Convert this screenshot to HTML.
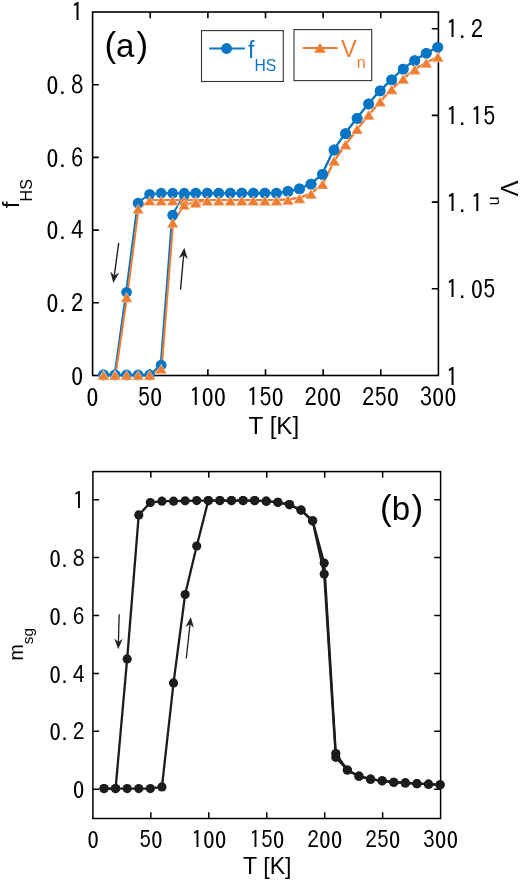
<!DOCTYPE html><html><head><meta charset="utf-8"><title>fHS Vn msg vs T</title>
<style>html,body{margin:0;padding:0;background:#fff;overflow:hidden;}svg{display:block;}</style></head><body>
<svg width="520" height="881" viewBox="0 0 520 881">
<rect width="520" height="881" fill="#fff"/>
<g stroke="#000" stroke-width="1.60" fill="none">
<rect x="92.60" y="12.00" width="345.80" height="363.50" stroke-linejoin="miter"/>
<path d="M150.23 375.50v-6.2M150.23 12.00v6.2M207.87 375.50v-6.2M207.87 12.00v6.2M265.50 375.50v-6.2M265.50 12.00v6.2M323.13 375.50v-6.2M323.13 12.00v6.2M380.77 375.50v-6.2M380.77 12.00v6.2M92.60 302.80h6.2M92.60 230.10h6.2M92.60 157.40h6.2M92.60 84.70h6.2M438.40 288.80h-6.6M438.40 202.10h-6.6M438.40 115.40h-6.6M438.40 28.70h-6.6"/>
</g>
<polyline points="103.03,375.00 114.55,375.00 126.08,375.00 137.61,375.00 149.13,375.00 160.66,365.19 172.19,215.21 183.71,195.07 195.24,193.25 206.77,193.25 218.29,193.25 229.82,193.25 241.35,193.25 252.87,193.25 264.40,193.25 275.93,193.25 287.45,191.43 298.98,188.89 310.51,184.16 322.03,174.35 333.56,149.99 345.09,133.64 356.61,118.37 368.14,104.01 379.67,90.92 391.19,79.84 402.72,69.11 414.25,60.57 425.77,53.30 437.30,47.30" fill="none" stroke="#0876C4" stroke-width="2.00" stroke-linejoin="round" stroke-linecap="butt"/>
<polyline points="103.03,375.00 114.55,375.00 126.08,292.30 137.61,203.06 149.13,194.34 160.66,193.25 172.19,193.25 183.71,193.25 195.24,193.25 206.77,193.25 218.29,193.25 229.82,193.25 241.35,193.25 252.87,193.25 264.40,193.25 275.93,193.25 287.45,191.43 298.98,188.89 310.51,184.16 322.03,174.35 333.56,149.99 345.09,133.64 356.61,118.37 368.14,104.01 379.67,90.92 391.19,79.84 402.72,69.11 414.25,60.57 425.77,53.30 437.30,47.30" fill="none" stroke="#0876C4" stroke-width="2.00" stroke-linejoin="round" stroke-linecap="butt"/>
<polyline points="104.03,374.60 115.55,374.60 127.08,374.60 138.61,374.60 150.13,374.60 161.66,368.30 173.19,222.30 184.71,204.30 196.24,202.30 207.77,200.10 219.29,200.10 230.82,200.10 242.35,200.10 253.87,200.10 265.40,200.10 276.93,200.10 288.45,199.30 299.98,197.80 311.51,193.30 323.03,183.60 334.56,160.30 346.09,143.90 357.61,128.60 369.14,114.30 380.67,101.00 392.19,88.80 403.72,78.30 415.25,68.90 426.77,62.30 438.30,56.30" fill="none" stroke="#EE7D31" stroke-width="2.00" stroke-linejoin="round" stroke-linecap="butt"/>
<polyline points="104.03,374.60 115.55,374.60 127.08,296.70 138.61,208.30 150.13,200.10 161.66,200.10 173.19,200.10 184.71,200.10 196.24,200.10 207.77,200.10 219.29,200.10 230.82,200.10 242.35,200.10 253.87,200.10 265.40,200.10 276.93,200.10 288.45,199.30 299.98,197.80 311.51,193.30 323.03,183.60 334.56,160.30 346.09,143.90 357.61,128.60 369.14,114.30 380.67,101.00 392.19,88.80 403.72,78.30 415.25,68.90 426.77,62.30 438.30,56.30" fill="none" stroke="#EE7D31" stroke-width="2.00" stroke-linejoin="round" stroke-linecap="butt"/>
<polyline points="103.53,375.00 149.63,375.00" fill="none" stroke="#0876C4" stroke-width="2.00" stroke-linejoin="round" stroke-linecap="butt"/>
<g fill="#0876C4"><circle cx="103.53" cy="375.00" r="5.40"/><circle cx="115.05" cy="375.00" r="5.40"/><circle cx="126.58" cy="292.30" r="5.40"/><circle cx="138.11" cy="203.06" r="5.40"/><circle cx="149.63" cy="194.34" r="5.40"/><circle cx="161.16" cy="193.25" r="5.40"/><circle cx="172.69" cy="193.25" r="5.40"/><circle cx="184.21" cy="193.25" r="5.40"/><circle cx="195.74" cy="193.25" r="5.40"/><circle cx="207.27" cy="193.25" r="5.40"/><circle cx="218.79" cy="193.25" r="5.40"/><circle cx="230.32" cy="193.25" r="5.40"/><circle cx="241.85" cy="193.25" r="5.40"/><circle cx="253.37" cy="193.25" r="5.40"/><circle cx="264.90" cy="193.25" r="5.40"/><circle cx="276.43" cy="193.25" r="5.40"/><circle cx="287.95" cy="191.43" r="5.40"/><circle cx="299.48" cy="188.89" r="5.40"/><circle cx="311.01" cy="184.16" r="5.40"/><circle cx="322.53" cy="174.35" r="5.40"/><circle cx="334.06" cy="149.99" r="5.40"/><circle cx="345.59" cy="133.64" r="5.40"/><circle cx="357.11" cy="118.37" r="5.40"/><circle cx="368.64" cy="104.01" r="5.40"/><circle cx="380.17" cy="90.92" r="5.40"/><circle cx="391.69" cy="79.84" r="5.40"/><circle cx="403.22" cy="69.11" r="5.40"/><circle cx="414.75" cy="60.57" r="5.40"/><circle cx="426.27" cy="53.30" r="5.40"/><circle cx="437.80" cy="47.30" r="5.40"/><circle cx="103.53" cy="375.00" r="5.40"/><circle cx="115.05" cy="375.00" r="5.40"/><circle cx="126.58" cy="375.00" r="5.40"/><circle cx="138.11" cy="375.00" r="5.40"/><circle cx="149.63" cy="375.00" r="5.40"/><circle cx="161.16" cy="365.19" r="5.40"/><circle cx="172.69" cy="215.21" r="5.40"/><circle cx="184.21" cy="195.07" r="5.40"/><circle cx="195.74" cy="193.25" r="5.40"/><circle cx="207.27" cy="193.25" r="5.40"/><circle cx="218.79" cy="193.25" r="5.40"/><circle cx="230.32" cy="193.25" r="5.40"/><circle cx="241.85" cy="193.25" r="5.40"/><circle cx="253.37" cy="193.25" r="5.40"/><circle cx="264.90" cy="193.25" r="5.40"/><circle cx="276.43" cy="193.25" r="5.40"/><circle cx="287.95" cy="191.43" r="5.40"/><circle cx="299.48" cy="188.89" r="5.40"/><circle cx="311.01" cy="184.16" r="5.40"/><circle cx="322.53" cy="174.35" r="5.40"/><circle cx="334.06" cy="149.99" r="5.40"/><circle cx="345.59" cy="133.64" r="5.40"/><circle cx="357.11" cy="118.37" r="5.40"/><circle cx="368.64" cy="104.01" r="5.40"/><circle cx="380.17" cy="90.92" r="5.40"/><circle cx="391.69" cy="79.84" r="5.40"/><circle cx="403.22" cy="69.11" r="5.40"/><circle cx="414.75" cy="60.57" r="5.40"/><circle cx="426.27" cy="53.30" r="5.40"/><circle cx="437.80" cy="47.30" r="5.40"/></g>
<g fill="#EE7D31" stroke="#fff" stroke-width="0.40"><polygon points="103.53,370.50 109.33,380.10 97.73,380.10"/><polygon points="115.05,370.50 120.85,380.10 109.25,380.10"/><polygon points="126.58,292.60 132.38,302.20 120.78,302.20"/><polygon points="138.11,204.20 143.91,213.80 132.31,213.80"/><polygon points="149.63,196.00 155.43,205.60 143.83,205.60"/><polygon points="161.16,196.00 166.96,205.60 155.36,205.60"/><polygon points="172.69,196.00 178.49,205.60 166.89,205.60"/><polygon points="184.21,196.00 190.01,205.60 178.41,205.60"/><polygon points="195.74,196.00 201.54,205.60 189.94,205.60"/><polygon points="207.27,196.00 213.07,205.60 201.47,205.60"/><polygon points="218.79,196.00 224.59,205.60 212.99,205.60"/><polygon points="230.32,196.00 236.12,205.60 224.52,205.60"/><polygon points="241.85,196.00 247.65,205.60 236.05,205.60"/><polygon points="253.37,196.00 259.17,205.60 247.57,205.60"/><polygon points="264.90,196.00 270.70,205.60 259.10,205.60"/><polygon points="276.43,196.00 282.23,205.60 270.63,205.60"/><polygon points="287.95,195.20 293.75,204.80 282.15,204.80"/><polygon points="299.48,193.70 305.28,203.30 293.68,203.30"/><polygon points="311.01,189.20 316.81,198.80 305.21,198.80"/><polygon points="322.53,179.50 328.33,189.10 316.73,189.10"/><polygon points="334.06,156.20 339.86,165.80 328.26,165.80"/><polygon points="345.59,139.80 351.39,149.40 339.79,149.40"/><polygon points="357.11,124.50 362.91,134.10 351.31,134.10"/><polygon points="368.64,110.20 374.44,119.80 362.84,119.80"/><polygon points="380.17,96.90 385.97,106.50 374.37,106.50"/><polygon points="391.69,84.70 397.49,94.30 385.89,94.30"/><polygon points="403.22,74.20 409.02,83.80 397.42,83.80"/><polygon points="414.75,64.80 420.55,74.40 408.95,74.40"/><polygon points="426.27,58.20 432.07,67.80 420.47,67.80"/><polygon points="437.80,52.20 443.60,61.80 432.00,61.80"/><polygon points="103.53,370.50 109.33,380.10 97.73,380.10"/><polygon points="115.05,370.50 120.85,380.10 109.25,380.10"/><polygon points="126.58,370.50 132.38,380.10 120.78,380.10"/><polygon points="138.11,370.50 143.91,380.10 132.31,380.10"/><polygon points="149.63,370.50 155.43,380.10 143.83,380.10"/><polygon points="161.16,364.20 166.96,373.80 155.36,373.80"/><polygon points="172.69,218.20 178.49,227.80 166.89,227.80"/><polygon points="184.21,200.20 190.01,209.80 178.41,209.80"/><polygon points="195.74,198.20 201.54,207.80 189.94,207.80"/><polygon points="207.27,196.00 213.07,205.60 201.47,205.60"/><polygon points="218.79,196.00 224.59,205.60 212.99,205.60"/><polygon points="230.32,196.00 236.12,205.60 224.52,205.60"/><polygon points="241.85,196.00 247.65,205.60 236.05,205.60"/><polygon points="253.37,196.00 259.17,205.60 247.57,205.60"/><polygon points="264.90,196.00 270.70,205.60 259.10,205.60"/><polygon points="276.43,196.00 282.23,205.60 270.63,205.60"/><polygon points="287.95,195.20 293.75,204.80 282.15,204.80"/><polygon points="299.48,193.70 305.28,203.30 293.68,203.30"/><polygon points="311.01,189.20 316.81,198.80 305.21,198.80"/><polygon points="322.53,179.50 328.33,189.10 316.73,189.10"/><polygon points="334.06,156.20 339.86,165.80 328.26,165.80"/><polygon points="345.59,139.80 351.39,149.40 339.79,149.40"/><polygon points="357.11,124.50 362.91,134.10 351.31,134.10"/><polygon points="368.64,110.20 374.44,119.80 362.84,119.80"/><polygon points="380.17,96.90 385.97,106.50 374.37,106.50"/><polygon points="391.69,84.70 397.49,94.30 385.89,94.30"/><polygon points="403.22,74.20 409.02,83.80 397.42,83.80"/><polygon points="414.75,64.80 420.55,74.40 408.95,74.40"/><polygon points="426.27,58.20 432.07,67.80 420.47,67.80"/><polygon points="437.80,52.20 443.60,61.80 432.00,61.80"/></g>
<g font-family="&apos;IPAGothic&apos;, &apos;Liberation Sans&apos;, sans-serif" fill="#000">
<text x="77.23" y="384.78" text-anchor="middle" font-size="24.70"><tspan font-family="&apos;Noto Sans CJK JP&apos;, sans-serif" style="font-feature-settings:&apos;hwid&apos; 1">0</tspan></text>
<text x="52.53 62.41 77.23" y="312.08" text-anchor="middle" font-size="24.70"><tspan font-family="&apos;Noto Sans CJK JP&apos;, sans-serif" style="font-feature-settings:&apos;hwid&apos; 1">0</tspan><tspan font-family="&apos;Liberation Sans&apos;, sans-serif">.</tspan>2</text>
<text x="52.53 62.41 77.23" y="239.38" text-anchor="middle" font-size="24.70"><tspan font-family="&apos;Noto Sans CJK JP&apos;, sans-serif" style="font-feature-settings:&apos;hwid&apos; 1">0</tspan><tspan font-family="&apos;Liberation Sans&apos;, sans-serif">.</tspan>4</text>
<text x="52.53 62.41 77.23" y="166.68" text-anchor="middle" font-size="24.70"><tspan font-family="&apos;Noto Sans CJK JP&apos;, sans-serif" style="font-feature-settings:&apos;hwid&apos; 1">0</tspan><tspan font-family="&apos;Liberation Sans&apos;, sans-serif">.</tspan>6</text>
<text x="52.53 62.41 77.23" y="93.98" text-anchor="middle" font-size="24.70"><tspan font-family="&apos;Noto Sans CJK JP&apos;, sans-serif" style="font-feature-settings:&apos;hwid&apos; 1">0</tspan><tspan font-family="&apos;Liberation Sans&apos;, sans-serif">.</tspan>8</text>
<text x="77.23" y="21.28" text-anchor="middle" font-size="24.70">1</text>
<text x="452.18" y="386.38" text-anchor="middle" font-size="24.70">1</text>
<text x="452.18 462.06 476.88 489.23" y="298.48" text-anchor="middle" font-size="24.70">1<tspan font-family="&apos;Liberation Sans&apos;, sans-serif">.</tspan><tspan font-family="&apos;Noto Sans CJK JP&apos;, sans-serif" style="font-feature-settings:&apos;hwid&apos; 1">0</tspan>5</text>
<text x="452.18 462.06 476.88" y="211.78" text-anchor="middle" font-size="24.70">1<tspan font-family="&apos;Liberation Sans&apos;, sans-serif">.</tspan>1</text>
<text x="452.18 462.06 476.88 489.23" y="125.08" text-anchor="middle" font-size="24.70">1<tspan font-family="&apos;Liberation Sans&apos;, sans-serif">.</tspan>15</text>
<text x="452.18 462.06 476.88" y="38.38" text-anchor="middle" font-size="24.70">1<tspan font-family="&apos;Liberation Sans&apos;, sans-serif">.</tspan>2</text>
<text x="92.40" y="406.18" text-anchor="middle" font-size="24.70"><tspan font-family="&apos;Noto Sans CJK JP&apos;, sans-serif" style="font-feature-settings:&apos;hwid&apos; 1">0</tspan></text>
<text x="143.86 156.21" y="406.18" text-anchor="middle" font-size="24.70">5<tspan font-family="&apos;Noto Sans CJK JP&apos;, sans-serif" style="font-feature-settings:&apos;hwid&apos; 1">0</tspan></text>
<text x="195.32 207.67 220.02" y="406.18" text-anchor="middle" font-size="24.70">1<tspan font-family="&apos;Noto Sans CJK JP&apos;, sans-serif" style="font-feature-settings:&apos;hwid&apos; 1">0</tspan><tspan font-family="&apos;Noto Sans CJK JP&apos;, sans-serif" style="font-feature-settings:&apos;hwid&apos; 1">0</tspan></text>
<text x="252.95 265.30 277.65" y="406.18" text-anchor="middle" font-size="24.70">15<tspan font-family="&apos;Noto Sans CJK JP&apos;, sans-serif" style="font-feature-settings:&apos;hwid&apos; 1">0</tspan></text>
<text x="310.58 322.93 335.28" y="406.18" text-anchor="middle" font-size="24.70">2<tspan font-family="&apos;Noto Sans CJK JP&apos;, sans-serif" style="font-feature-settings:&apos;hwid&apos; 1">0</tspan><tspan font-family="&apos;Noto Sans CJK JP&apos;, sans-serif" style="font-feature-settings:&apos;hwid&apos; 1">0</tspan></text>
<text x="368.22 380.57 392.92" y="406.18" text-anchor="middle" font-size="24.70">25<tspan font-family="&apos;Noto Sans CJK JP&apos;, sans-serif" style="font-feature-settings:&apos;hwid&apos; 1">0</tspan></text>
<text x="425.85 438.20 450.55" y="406.18" text-anchor="middle" font-size="24.70">3<tspan font-family="&apos;Noto Sans CJK JP&apos;, sans-serif" style="font-feature-settings:&apos;hwid&apos; 1">0</tspan><tspan font-family="&apos;Noto Sans CJK JP&apos;, sans-serif" style="font-feature-settings:&apos;hwid&apos; 1">0</tspan></text>
</g>
<g font-family="&apos;Liberation Sans&apos;, Arial, sans-serif" fill="#000">
<text x="248.6" y="434.1" font-size="24.2">T [K]</text>
<text x="104.4 116.0 136.4" y="56.9" font-size="35">(<tspan font-size="33">a</tspan>)</text>
<text transform="translate(18.8,207.9) rotate(-90)" font-size="23.2">f<tspan font-size="16.2" dy="12.8">HS</tspan></text>
<text transform="translate(500.8,180.5) rotate(90)" font-size="23.8">V<tspan font-size="16" dy="10.8">n</tspan></text>
</g>
<rect x="201.5" y="30.6" width="81.8" height="50.9" fill="#fff" stroke="#333" stroke-width="1.1"/>
<line x1="209.2" y1="48.5" x2="244.8" y2="48.5" stroke="#0876C4" stroke-width="2"/>
<circle cx="226.6" cy="48.5" r="5.40" fill="#0876C4"/>
<text x="248.0" y="58.0" font-family="&apos;Liberation Sans&apos;, Arial, sans-serif" font-size="23.5" fill="#0876C4">f<tspan font-size="15.7" dy="13.1">HS</tspan></text>
<rect x="294.0" y="29.6" width="77.7" height="51.0" fill="#fff" stroke="#333" stroke-width="1.1"/>
<line x1="302.7" y1="47.9" x2="337.7" y2="47.9" stroke="#EE7D31" stroke-width="2"/>
<g fill="#EE7D31"><polygon points="320.00,43.10 325.80,52.70 314.20,52.70"/></g>
<text x="341.1" y="57.4" font-family="&apos;Liberation Sans&apos;, Arial, sans-serif" font-size="23.5" fill="#EE7D31">V<tspan font-size="16" dy="11">n</tspan></text>
<line x1="118.70" y1="242.80" x2="114.30" y2="275.57" stroke="#222" stroke-width="1.40"/><polygon points="113.30,283.00 110.30,271.50 114.30,275.57 119.22,272.70" fill="#222"/>
<line x1="180.50" y1="289.60" x2="183.62" y2="255.27" stroke="#222" stroke-width="1.40"/><polygon points="184.30,247.80 187.79,259.16 183.62,255.27 178.82,258.35" fill="#222"/>
<g stroke="#000" stroke-width="1.50" fill="none">
<rect x="92.90" y="471.60" width="347.70" height="346.90"/>
<path d="M150.85 818.50v-6.2M150.85 471.60v6.2M208.80 818.50v-6.2M208.80 471.60v6.2M266.75 818.50v-6.2M266.75 471.60v6.2M324.70 818.50v-6.2M324.70 471.60v6.2M382.65 818.50v-6.2M382.65 471.60v6.2M92.90 789.20h6.2M440.60 789.20h-6.4M92.90 731.30h6.2M440.60 731.30h-6.4M92.90 673.40h6.2M440.60 673.40h-6.4M92.90 615.50h6.2M440.60 615.50h-6.4M92.90 557.60h6.2M440.60 557.60h-6.4M92.90 499.70h6.2M440.60 499.70h-6.4"/>
</g>
<polyline points="103.99,788.62 115.58,788.62 127.17,788.62 138.76,788.62 150.35,788.62 161.94,786.88 173.53,682.95 185.12,594.51 196.71,546.02 208.30,500.57 219.89,500.57 231.48,500.57 243.07,500.57 254.66,500.57 266.25,501.15 277.84,502.31 289.43,504.62 301.02,510.12 312.61,520.83 324.20,574.10 335.79,757.36 347.38,770.01 358.97,776.17 370.56,779.21 382.15,780.80 393.74,782.25 405.33,782.89 416.92,783.70 428.51,784.19 440.10,784.86" fill="none" stroke="#1c1c1c" stroke-width="2.30" stroke-linejoin="round" stroke-linecap="butt"/>
<polyline points="103.99,788.62 115.58,788.62 127.17,658.93 138.76,514.90 150.35,502.60 161.94,501.21 173.53,501.15 185.12,500.86 196.71,500.57 208.30,500.57 219.89,500.57 231.48,500.57 243.07,500.57 254.66,500.57 266.25,501.15 277.84,502.31 289.43,504.62 301.02,510.12 312.61,520.83 324.20,563.10 335.79,753.59 347.38,770.01 358.97,776.17 370.56,779.21 382.15,780.80 393.74,782.25 405.33,782.89 416.92,783.70 428.51,784.19 440.10,784.86" fill="none" stroke="#1c1c1c" stroke-width="2.30" stroke-linejoin="round" stroke-linecap="butt"/>
<g fill="#1c1c1c"><circle cx="103.99" cy="788.62" r="4.60"/><circle cx="115.58" cy="788.62" r="4.60"/><circle cx="127.17" cy="658.93" r="4.60"/><circle cx="138.76" cy="514.90" r="4.60"/><circle cx="150.35" cy="502.60" r="4.60"/><circle cx="161.94" cy="501.21" r="4.60"/><circle cx="173.53" cy="501.15" r="4.60"/><circle cx="185.12" cy="500.86" r="4.60"/><circle cx="196.71" cy="500.57" r="4.60"/><circle cx="208.30" cy="500.57" r="4.60"/><circle cx="219.89" cy="500.57" r="4.60"/><circle cx="231.48" cy="500.57" r="4.60"/><circle cx="243.07" cy="500.57" r="4.60"/><circle cx="254.66" cy="500.57" r="4.60"/><circle cx="266.25" cy="501.15" r="4.60"/><circle cx="277.84" cy="502.31" r="4.60"/><circle cx="289.43" cy="504.62" r="4.60"/><circle cx="301.02" cy="510.12" r="4.60"/><circle cx="312.61" cy="520.83" r="4.60"/><circle cx="324.20" cy="563.10" r="4.60"/><circle cx="335.79" cy="753.59" r="4.60"/><circle cx="347.38" cy="770.01" r="4.60"/><circle cx="358.97" cy="776.17" r="4.60"/><circle cx="370.56" cy="779.21" r="4.60"/><circle cx="382.15" cy="780.80" r="4.60"/><circle cx="393.74" cy="782.25" r="4.60"/><circle cx="405.33" cy="782.89" r="4.60"/><circle cx="416.92" cy="783.70" r="4.60"/><circle cx="428.51" cy="784.19" r="4.60"/><circle cx="440.10" cy="784.86" r="4.60"/><circle cx="103.99" cy="788.62" r="4.60"/><circle cx="115.58" cy="788.62" r="4.60"/><circle cx="127.17" cy="788.62" r="4.60"/><circle cx="138.76" cy="788.62" r="4.60"/><circle cx="150.35" cy="788.62" r="4.60"/><circle cx="161.94" cy="786.88" r="4.60"/><circle cx="173.53" cy="682.95" r="4.60"/><circle cx="185.12" cy="594.51" r="4.60"/><circle cx="196.71" cy="546.02" r="4.60"/><circle cx="208.30" cy="500.57" r="4.60"/><circle cx="219.89" cy="500.57" r="4.60"/><circle cx="231.48" cy="500.57" r="4.60"/><circle cx="243.07" cy="500.57" r="4.60"/><circle cx="254.66" cy="500.57" r="4.60"/><circle cx="266.25" cy="501.15" r="4.60"/><circle cx="277.84" cy="502.31" r="4.60"/><circle cx="289.43" cy="504.62" r="4.60"/><circle cx="301.02" cy="510.12" r="4.60"/><circle cx="312.61" cy="520.83" r="4.60"/><circle cx="324.20" cy="574.10" r="4.60"/><circle cx="335.79" cy="757.36" r="4.60"/><circle cx="347.38" cy="770.01" r="4.60"/><circle cx="358.97" cy="776.17" r="4.60"/><circle cx="370.56" cy="779.21" r="4.60"/><circle cx="382.15" cy="780.80" r="4.60"/><circle cx="393.74" cy="782.25" r="4.60"/><circle cx="405.33" cy="782.89" r="4.60"/><circle cx="416.92" cy="783.70" r="4.60"/><circle cx="428.51" cy="784.19" r="4.60"/><circle cx="440.10" cy="784.86" r="4.60"/></g>
<g font-family="&apos;IPAGothic&apos;, &apos;Liberation Sans&apos;, sans-serif" fill="#000">
<text x="78.53" y="798.30" text-anchor="middle" font-size="23.50"><tspan font-family="&apos;Noto Sans CJK JP&apos;, sans-serif" style="font-feature-settings:&apos;hwid&apos; 1">0</tspan></text>
<text x="55.03 64.43 78.53" y="740.40" text-anchor="middle" font-size="23.50"><tspan font-family="&apos;Noto Sans CJK JP&apos;, sans-serif" style="font-feature-settings:&apos;hwid&apos; 1">0</tspan><tspan font-family="&apos;Liberation Sans&apos;, sans-serif">.</tspan>2</text>
<text x="55.03 64.43 78.53" y="682.50" text-anchor="middle" font-size="23.50"><tspan font-family="&apos;Noto Sans CJK JP&apos;, sans-serif" style="font-feature-settings:&apos;hwid&apos; 1">0</tspan><tspan font-family="&apos;Liberation Sans&apos;, sans-serif">.</tspan>4</text>
<text x="55.03 64.43 78.53" y="624.60" text-anchor="middle" font-size="23.50"><tspan font-family="&apos;Noto Sans CJK JP&apos;, sans-serif" style="font-feature-settings:&apos;hwid&apos; 1">0</tspan><tspan font-family="&apos;Liberation Sans&apos;, sans-serif">.</tspan>6</text>
<text x="55.03 64.43 78.53" y="566.70" text-anchor="middle" font-size="23.50"><tspan font-family="&apos;Noto Sans CJK JP&apos;, sans-serif" style="font-feature-settings:&apos;hwid&apos; 1">0</tspan><tspan font-family="&apos;Liberation Sans&apos;, sans-serif">.</tspan>8</text>
<text x="78.53" y="508.80" text-anchor="middle" font-size="23.50">1</text>
<text x="93.00" y="847.90" text-anchor="middle" font-size="23.50"><tspan font-family="&apos;Noto Sans CJK JP&apos;, sans-serif" style="font-feature-settings:&apos;hwid&apos; 1">0</tspan></text>
<text x="145.08 156.83" y="847.90" text-anchor="middle" font-size="23.50">5<tspan font-family="&apos;Noto Sans CJK JP&apos;, sans-serif" style="font-feature-settings:&apos;hwid&apos; 1">0</tspan></text>
<text x="197.15 208.90 220.65" y="847.90" text-anchor="middle" font-size="23.50">1<tspan font-family="&apos;Noto Sans CJK JP&apos;, sans-serif" style="font-feature-settings:&apos;hwid&apos; 1">0</tspan><tspan font-family="&apos;Noto Sans CJK JP&apos;, sans-serif" style="font-feature-settings:&apos;hwid&apos; 1">0</tspan></text>
<text x="255.10 266.85 278.60" y="847.90" text-anchor="middle" font-size="23.50">15<tspan font-family="&apos;Noto Sans CJK JP&apos;, sans-serif" style="font-feature-settings:&apos;hwid&apos; 1">0</tspan></text>
<text x="313.05 324.80 336.55" y="847.90" text-anchor="middle" font-size="23.50">2<tspan font-family="&apos;Noto Sans CJK JP&apos;, sans-serif" style="font-feature-settings:&apos;hwid&apos; 1">0</tspan><tspan font-family="&apos;Noto Sans CJK JP&apos;, sans-serif" style="font-feature-settings:&apos;hwid&apos; 1">0</tspan></text>
<text x="371.00 382.75 394.50" y="847.90" text-anchor="middle" font-size="23.50">25<tspan font-family="&apos;Noto Sans CJK JP&apos;, sans-serif" style="font-feature-settings:&apos;hwid&apos; 1">0</tspan></text>
<text x="428.95 440.70 452.45" y="847.90" text-anchor="middle" font-size="23.50">3<tspan font-family="&apos;Noto Sans CJK JP&apos;, sans-serif" style="font-feature-settings:&apos;hwid&apos; 1">0</tspan><tspan font-family="&apos;Noto Sans CJK JP&apos;, sans-serif" style="font-feature-settings:&apos;hwid&apos; 1">0</tspan></text>
</g>
<g font-family="&apos;Liberation Sans&apos;, Arial, sans-serif" fill="#000">
<text x="243.0" y="874.2" font-size="23.2">T [K]</text>
<text x="380.1 391.8 411.6" y="520.0" font-size="35">(<tspan font-size="33">b</tspan>)</text>
<text transform="translate(23.1,660.5) rotate(-90)" font-size="19.5">m<tspan font-size="15.3" dy="10.1">sg</tspan></text>
</g>
<line x1="119.20" y1="614.20" x2="118.41" y2="641.90" stroke="#222" stroke-width="1.30"/><polygon points="118.20,649.20 114.30,638.58 118.41,641.90 122.70,638.82" fill="#222"/>
<line x1="186.30" y1="658.40" x2="190.01" y2="624.16" stroke="#222" stroke-width="1.30"/><polygon points="190.80,616.90 193.84,627.79 190.01,624.16 185.49,626.89" fill="#222"/>
</svg></body></html>
